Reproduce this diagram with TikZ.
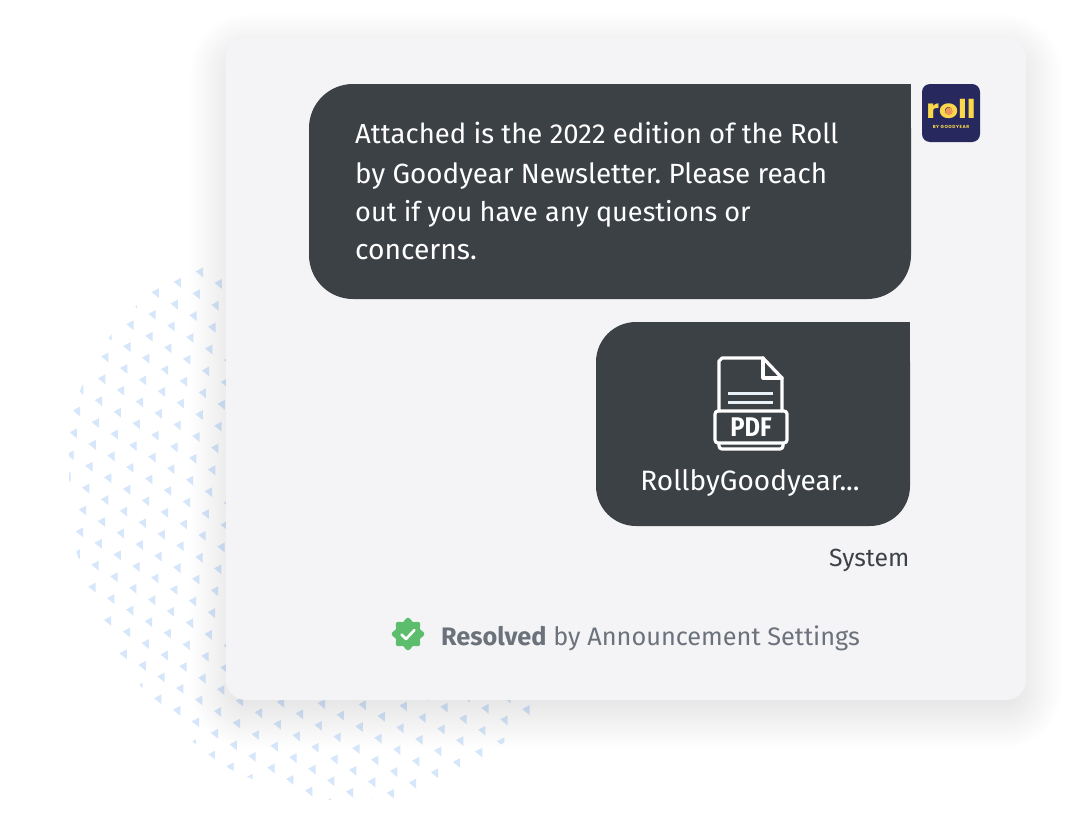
\documentclass[tikz,border=0pt]{standalone}
\usepackage{fontspec}
\setmainfont{Fira Sans}
\newfontfamily\logofont{Poppins}
\newfontfamily\logosubfont[LetterSpace=12]{Poppins}
\definecolor{bubble}{HTML}{3C4146}
\definecolor{cardbg}{HTML}{F4F4F7}
\definecolor{dotblue}{HTML}{D6E6FB}
\definecolor{greytxt}{HTML}{6C727B}
\definecolor{logobg}{HTML}{26285E}
\definecolor{logoyel}{HTML}{FBD84B}
\definecolor{logoorg}{HTML}{F0965A}
\definecolor{okgreen}{HTML}{5CBD6C}
\definecolor{pdfline}{HTML}{E8F0F8}
\definecolor{shadowc}{HTML}{343A58}
\frenchspacing
\tikzset{
  bubbletxt/.style={anchor=base west,inner sep=0pt,text=white},
  footertxt/.style={inner sep=0pt,text=greytxt,font=\fontsize{25.3}{25}\selectfont},
  iconline/.style={draw=white,line width=3.2pt,line join=round,line cap=round},
}
\begin{document}
\begin{tikzpicture}[x=1pt,y=-1pt]
\useasboundingbox (0,0) rectangle (1070,816);
\fill[white] (0,0) rectangle (1070,816);
% dotted disc
\begin{scope}
\clip plot[smooth cycle] coordinates {(222,254) (156,287) (100,350) (74,410) (69,470) (74,540) (95,610) (125,665) (170,720) (212,757) (250,778) (329,800) (420,792) (502,744) (545,690) (620,500) (500,300) (350,240)};
\foreach \j in {-40,...,8}{
  \foreach \i in {-10,...,25}{
    \pgfmathsetmacro{\px}{258.7+40.9*\i+18.86*\j}
    \pgfmathsetmacro{\py}{713+1.2*\i+11.53*\j}
    \pgfmathtruncatemacro{\keep}{(\px>55)&&(\px<560)&&(\py>225)&&(\py<805)?1:0}
    \ifnum\keep=1
      \fill[dotblue] (\px-3.9,\py-0.8) -- (\px+3.4,\py-4.7) -- (\px+3.4,\py+5.1) -- cycle;
    \fi
  }
}
\end{scope}
% card shadow
\foreach \d in {36,34,...,-14}{
  \fill[shadowc,opacity=0.005,rounded corners={max(22+\d,2)*1pt}]
    (226-\d,38+12-\d) rectangle (1026+\d,700+12+\d);
}
% card
\fill[cardbg,rounded corners=20pt] (226,38) rectangle (1026,700);
% bubbles
\fill[bubble,rounded corners=44pt] (309,84) rectangle (911,299);
\fill[bubble] (851,84) rectangle (911,144);
\fill[bubble,rounded corners=40pt] (596,322) rectangle (910,526);
\fill[bubble] (850,322) rectangle (910,382);
% message text
\node[bubbletxt,font=\fontsize{27.5}{28}\selectfont] (l1) at (355,143) {Attached is the 2022 edition of the Roll};
\node[bubbletxt,font=\fontsize{27.8}{28}\selectfont] (l2) at (355,183) {by Goodyear Newsletter. Please reach};
\node[bubbletxt,font=\fontsize{27.1}{28}\selectfont] (l3) at (355,221) {out if you have any questions or};
\node[bubbletxt,font=\fontsize{28.2}{28}\selectfont] (l4) at (355,259) {concerns.};
% logo
\fill[logobg,rounded corners=8pt] (922,84) rectangle (980,142);
\node[inner sep=0pt,anchor=base,text=logoyel,xscale=1.15,font=\logofont\bfseries\fontsize{26}{26}\selectfont] (logo) at (951,118.5) {roll};
\fill[logoorg] (949,111.3) circle[radius=3.8];
\node[inner sep=0pt,anchor=base,text=logoyel,font=\logosubfont\bfseries\fontsize{4.4}{5}\selectfont] (logosub) at (951,128) {BY GOODYEAR};
% pdf icon
\draw[iconline] (719,411) -- (719,361) -- (722,358) -- (763,358) -- (782,378) -- (782,411);
\draw[iconline] (763,358) -- (763,378) -- (782,378);
\draw[pdfline,line width=3pt] (728,393) -- (773,393) (728,402) -- (773,402);
\draw[iconline,rounded corners=3pt] (715,411) rectangle (787,443);
\draw[iconline,rounded corners=3pt] (719,443) -- (719,449) -- (783,449) -- (783,443);
\node[inner sep=0pt,text=white,xscale=0.88,font=\bfseries\fontsize{27}{27}\selectfont] (pdf) at (751,427.5) {PDF};
\node[inner sep=0pt,anchor=base,text=white,font=\fontsize{28}{28}\selectfont] (fname) at (750,490) {RollbyGoodyear...};
\node[inner sep=0pt,anchor=base east,text=bubble,font=\fontsize{24.8}{25}\selectfont] (sys) at (909.5,566) {System};
% resolved line
\fill[okgreen] plot[domain=0:360,samples=145,smooth] ({408+(14.6+1.6*cos(8*\x))*cos(\x)},{634+(14.6+1.6*cos(8*\x))*sin(\x)}) -- cycle;
\draw[white,line width=2.6pt,line cap=round,line join=round] (401.5,634.5) -- (406,639) -- (414.5,630);
\node[footertxt,anchor=base west] (res) at (441,645) {\textbf{Resolved} by Announcement Settings};
\end{tikzpicture}
\end{document}
